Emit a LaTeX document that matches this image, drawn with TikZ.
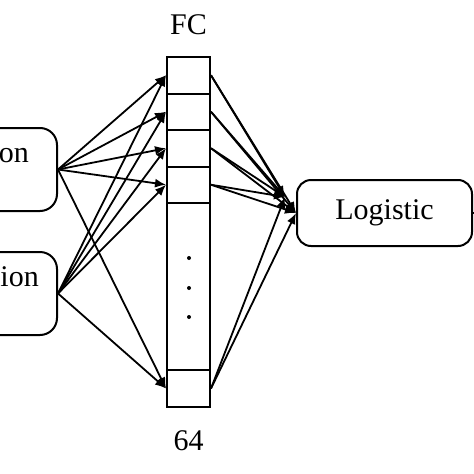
\documentclass[tikz,border=0pt]{standalone}
\usepackage{fontspec}
\setmainfont{Liberation Serif}
\usetikzlibrary{positioning, arrows.meta}

\begin{document}
\begin{tikzpicture}[
    x=1pt, y=-1pt,
    every node/.style={font=\fontsize{30}{34}\selectfont},
    box/.style={rectangle, draw, rounded corners=17pt, line width=2pt, inner sep=0pt},
    cell/.style={rectangle, draw, line width=2pt, minimum width=43pt, inner sep=0pt},
    lbl/.style={inner sep=0pt},
    arrow/.style={-{Latex[length=11pt, width=9pt]}, line width=1.8pt},
]
    \useasboundingbox[clip] (0,0) rectangle (474,474);

    % --- input boxes (cut off at the left) ---
    \node[box, minimum width=200pt, minimum height=83pt, anchor=east] (inA) at (58,169.5) {};
    \node[box, minimum width=200pt, minimum height=83pt, anchor=east] (inB) at (58,293.5) {};
    \node[lbl, anchor=base east] (tA) at (29,162) {on};
    \node[lbl, anchor=base east] (tB) at (39,286) {ion};

    % --- FC column ---
    \foreach \i in {1,...,4}
        \node[cell, minimum height=36.5pt] (c\i) at (188.5,{57+36.5*(\i-0.5)}) {};
    \node[cell, minimum height=167pt] (gap) at (188.5,286.5) {};
    \node[cell, minimum height=37pt] (c5) at (188.5,388.5) {};
    \foreach \y in {258,288,317}
        \fill (189,\y) circle (2pt);
    \node (fc) at (188.5,25) {FC};
    \node (size) at (188.5,441) {64};

    % --- output ---
    \node[box, rounded corners=14pt, minimum width=175pt, minimum height=66pt] (logi) at (384.5,213) {Logistic};
    \coordinate (hub) at (285,197);
    \draw[line width=2pt] (logi.east) -- ++(10,0);

    % --- arrows ---
    \foreach \c in {c1,c2,c3,c4,c5} {
        \draw[arrow] (inA.east) -- (\c.west);
        \draw[arrow] (inB.east) -- (\c.west);
        \draw[arrow] (\c.east) -- (hub);
        \draw[arrow] (\c.east) -- (logi.west);
    }
\end{tikzpicture}
\end{document}
